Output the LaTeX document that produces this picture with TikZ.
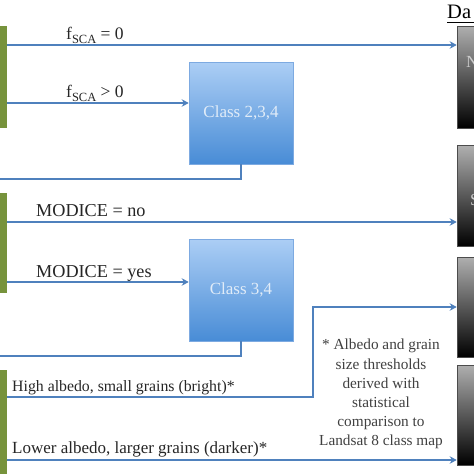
\documentclass[tikz,border=0pt]{standalone}
\usepackage{fontspec}
\setmainfont{Liberation Serif}
\usetikzlibrary{arrows.meta}
\definecolor{linec}{RGB}{79,129,189}
\definecolor{barg}{RGB}{119,147,60}
\definecolor{boxtop}{RGB}{172,206,245}
\definecolor{boxbot}{RGB}{72,140,214}
\definecolor{boxedge}{RGB}{125,170,225}
\definecolor{darktop}{RGB}{175,175,175}
\definecolor{notec}{RGB}{64,64,64}
\definecolor{classtxt}{RGB}{225,236,248}
\begin{document}
\begin{tikzpicture}[x=1pt,y=-1pt,
  conn/.style={draw=linec,line width=1.8pt},
  arr/.style={conn,-{Stealth[length=7pt,width=7.5pt]}},
  gbar/.style={fill=barg,draw=none,minimum width=7pt,inner sep=0pt},
  cbox/.style={draw=boxedge,line width=0.6pt,top color=boxtop,bottom color=boxbot,
     minimum width=104pt,minimum height=102pt,inner sep=0pt,text=classtxt,
     font=\fontsize{17}{17}\selectfont},
  dbox/.style={draw=black!70,line width=0.6pt,top color=darktop,bottom color=black,
     minimum width=32pt,minimum height=102pt,inner sep=0pt},
  lbl/.style={anchor=base west,inner sep=0pt,text=black!85,font=\fontsize{17.5}{17.5}\selectfont},
  dtxt/.style={anchor=west,inner sep=0pt,text=black!20,font=\fontsize{17}{17}\selectfont}
]
\clip (0,0) rectangle (474,474);
\fill[white] (0,0) rectangle (474,474);

% title
\node[anchor=base west,inner sep=0pt,font=\fontsize{20.5}{20.5}\selectfont] (title) at (447,18) {Da};
\draw[black,line width=0.8pt] (title.south west |- 0,22) -- (474,22);

% green bars
\node[gbar,minimum height=102pt] (g1) at (3.5,77) {};
\node[gbar,minimum height=100pt] (g2) at (3.5,243) {};
\node[gbar,minimum height=104pt] (g3) at (3.5,422) {};

% class boxes
\node[cbox] (c1) at (241,113) {Class 2,3,4};
\node[cbox] (c2) at (241,290) {Class 3,4};

% data boxes
\node[dbox] (d1) at (473,77) {};
\node[dbox,minimum height=101pt] (d2) at (473,196) {};
\node[dbox,minimum height=100pt] (d3) at (473,307) {};
\node[dbox,minimum height=100pt] (d4) at (473,415) {};
\node[dtxt] (n1) at (466,62) {N};
\node[dtxt] (n2) at (470,200) {S};

% connectors
\draw[arr] (g1.east |- 0,45) -- (d1.west |- 0,45);
\draw[arr] (g1.east |- 0,103) -- (c1.west |- 0,103);
\coordinate (out1) at (0,179);
\draw[conn] (c1.south) |- (out1);

\draw[arr] (g2.east |- 0,222) -- (d2.west |- 0,222);
\draw[arr] (g2.east |- 0,282) -- (c2.west |- 0,282);
\coordinate (out2) at (0,356);
\draw[conn] (c2.south) |- (out2);

\coordinate (bend) at (313,307);
\draw[arr] (g3.east |- 0,397) -| (bend) -- (d3.west);
\draw[arr] (g3.east |- 0,460) -- (d4.west |- 0,460);

% labels
\node[lbl] (l1) at (66,39) {f{\fontsize{12.5}{12.5}\selectfont\raisebox{-4pt}{SCA}} = 0};
\node[lbl] (l2) at (66,97) {f{\fontsize{12.5}{12.5}\selectfont\raisebox{-4pt}{SCA}} {\char"003E} 0};
\node[lbl,font=\fontsize{18.2}{18.2}\selectfont] (l3) at (36,216) {MODICE = no};
\node[lbl,font=\fontsize{18.2}{18.2}\selectfont] (l4) at (36,277) {MODICE = yes};
\node[lbl,font=\fontsize{15.8}{15.8}\selectfont] (l5) at (12,391) {High albedo, small grains (bright)*};
\node[lbl,font=\fontsize{17}{17}\selectfont] (l6) at (12,453) {Lower albedo, larger grains (darker)*};

% note
\node[align=center,inner sep=0pt,text=notec,font=\fontsize{15.3}{19.2}\selectfont,anchor=north] (note) at (381,339)
 {* Albedo and grain\\size thresholds\\derived with\\statistical\\comparison to\\Landsat 8 class map};
\end{tikzpicture}
\end{document}
